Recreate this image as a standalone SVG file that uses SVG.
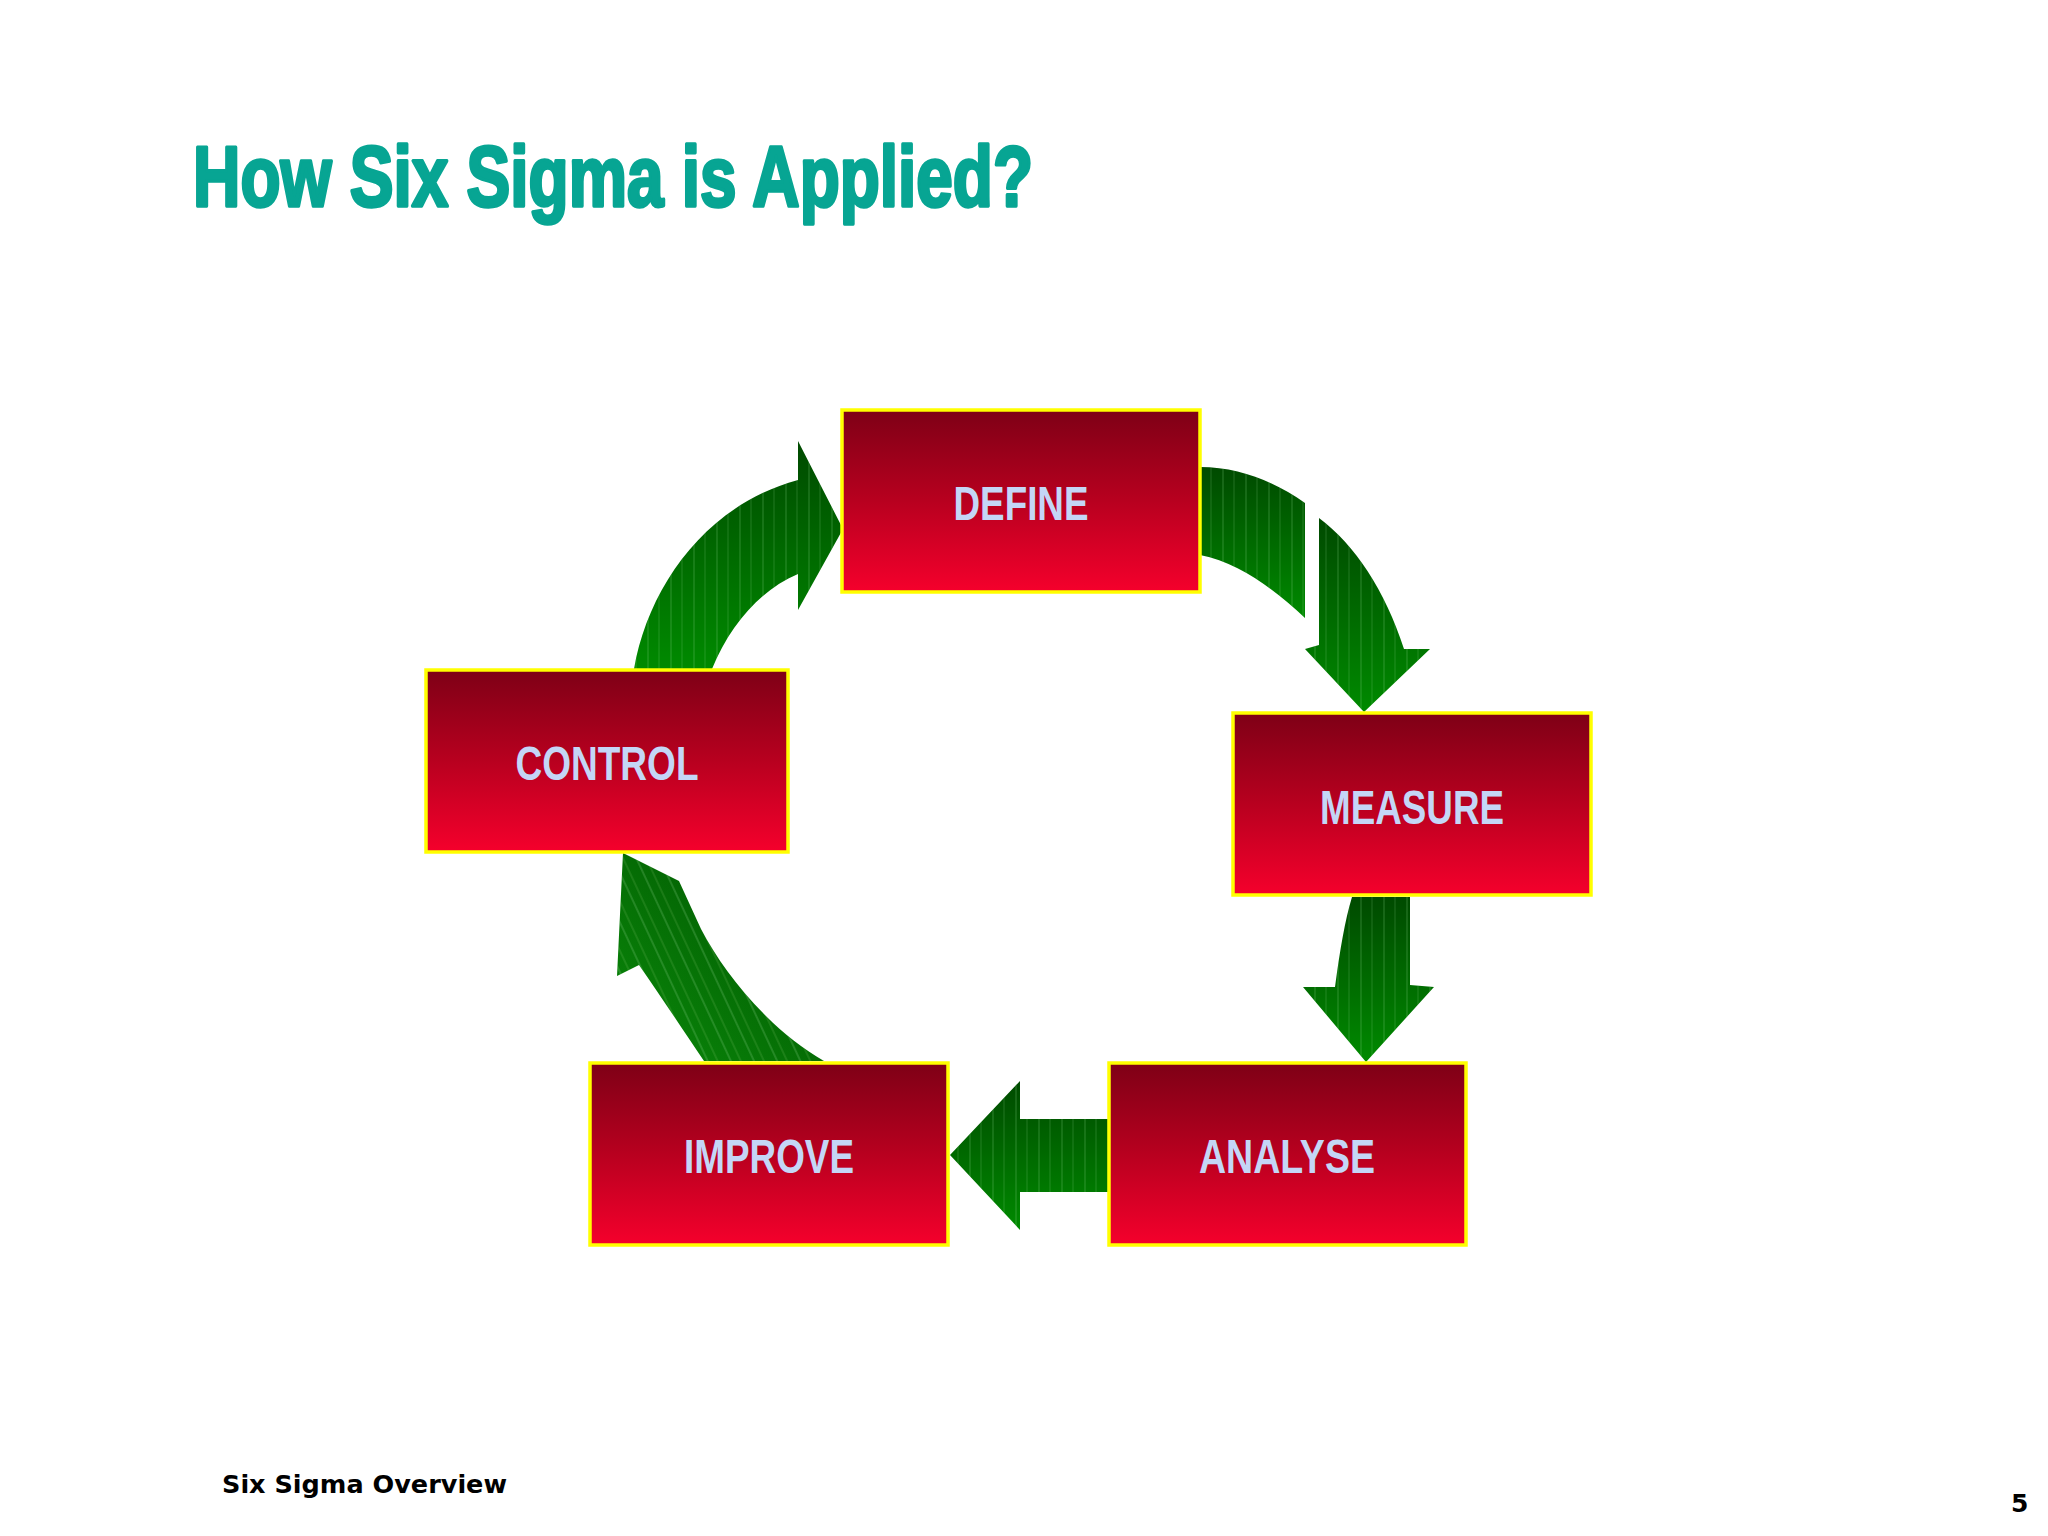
<svg xmlns="http://www.w3.org/2000/svg" width="2048" height="1536" viewBox="0 0 2048 1536">
<defs>
<linearGradient id="boxGrad" x1="0" y1="0" x2="0" y2="1">
<stop offset="0" stop-color="#7e0016"/>
<stop offset="0.5" stop-color="#b8001f"/>
<stop offset="1" stop-color="#f5002c"/>
</linearGradient>
<linearGradient id="arrowGrad" x1="0" y1="0" x2="0" y2="1">
<stop offset="0" stop-color="#004a00"/>
<stop offset="1" stop-color="#008a00"/>
</linearGradient>
<linearGradient id="arrowGradDiag" x1="1" y1="0" x2="0" y2="1">
<stop offset="0" stop-color="#005000"/>
<stop offset="1" stop-color="#0a8a0a"/>
</linearGradient>
<pattern id="streakV" width="23" height="40" patternUnits="userSpaceOnUse">
<line x1="4" y1="0" x2="4" y2="40" stroke="#7fd07f" stroke-width="0.8" stroke-opacity="0.45"/>
<line x1="15" y1="0" x2="15" y2="40" stroke="#a0e0a0" stroke-width="0.6" stroke-opacity="0.35"/>
</pattern>
<pattern id="streakD" width="21" height="40" patternUnits="userSpaceOnUse" patternTransform="rotate(-25)">
<line x1="4" y1="0" x2="4" y2="40" stroke="#a0e0a0" stroke-width="0.8" stroke-opacity="0.5"/>
<line x1="13" y1="0" x2="13" y2="40" stroke="#c0f0a0" stroke-width="0.6" stroke-opacity="0.4"/>
</pattern>
<style>
.box{fill:url(#boxGrad);stroke:#ffff00;stroke-width:3.5}
.lbl{font-family:"Liberation Sans",Arial,sans-serif;font-weight:bold;font-size:48px;fill:#c4d6f6;text-anchor:middle}
.arr{fill:url(#arrowGrad)}
.arrD{fill:url(#arrowGradDiag)}
.stV{fill:url(#streakV)}
.stD{fill:url(#streakD)}
</style>
</defs>
<rect width="2048" height="1536" fill="#ffffff"/>
<text x="193" y="206" font-family="'Liberation Sans',Arial,sans-serif" font-weight="bold" font-size="86" fill="#07a593" stroke="#07a593" stroke-width="3.5" stroke-linejoin="round" textLength="840" lengthAdjust="spacingAndGlyphs">How Six Sigma is Applied?</text>

<g id="connectors">
<g id="arrow-control-define">
<path class="arr" d="M634,669 C648,588 705,505 798,480 L798,441 L843,529 L798,610 L798,574 C760,590 730,625 712,669 Z"/>
<path class="stV" d="M634,669 C648,588 705,505 798,480 L798,441 L843,529 L798,610 L798,574 C760,590 730,625 712,669 Z"/>
</g>
<g id="arrow-define-measure">
<path class="arr" d="M1200,467 C1240,467 1275,482 1305,503 L1305,618 C1275,590 1240,563 1200,555 Z"/>
<path class="stV" d="M1200,467 C1240,467 1275,482 1305,503 L1305,618 C1275,590 1240,563 1200,555 Z"/>
<path class="arr" d="M1319,518 C1355,545 1385,590 1404,649 L1430,649 L1364,712 L1305,649 L1319,645 Z"/>
<path class="stV" d="M1319,518 C1355,545 1385,590 1404,649 L1430,649 L1364,712 L1305,649 L1319,645 Z"/>
</g>
<g id="arrow-measure-analyse">
<path class="arr" d="M1352,897 L1410,897 L1410,985 L1434,987 L1366,1062 L1303,987 L1335,987 C1340,950 1345,920 1352,897 Z"/>
<path class="stV" d="M1352,897 L1410,897 L1410,985 L1434,987 L1366,1062 L1303,987 L1335,987 C1340,950 1345,920 1352,897 Z"/>
</g>
<g id="arrow-analyse-improve">
<path class="arr" d="M1109,1119 L1020,1119 L1020,1081 L950,1155 L1020,1230 L1020,1192 L1109,1192 Z"/>
<path class="stV" d="M1109,1119 L1020,1119 L1020,1081 L950,1155 L1020,1230 L1020,1192 L1109,1192 Z"/>
</g>
<g id="arrow-improve-control">
<path class="arrD" d="M704,1061 C683,1030 660,995 639,965 L617,976 L623,853 L679,881 L701,929 C725,975 770,1030 824,1061 Z"/>
<path class="stD" d="M704,1061 C683,1030 660,995 639,965 L617,976 L623,853 L679,881 L701,929 C725,975 770,1030 824,1061 Z"/>
</g>
</g>

<g id="node-define">
<rect class="box" x="842" y="410" width="358" height="182"/>
<text class="lbl" x="1021" y="520" textLength="135" lengthAdjust="spacingAndGlyphs">DEFINE</text>
</g>
<g id="node-control">
<rect class="box" x="426" y="670" width="362" height="182"/>
<text class="lbl" x="607" y="780" textLength="183" lengthAdjust="spacingAndGlyphs">CONTROL</text>
</g>
<g id="node-measure">
<rect class="box" x="1233" y="713" width="358" height="182"/>
<text class="lbl" x="1412" y="824" textLength="184" lengthAdjust="spacingAndGlyphs">MEASURE</text>
</g>
<g id="node-analyse">
<rect class="box" x="1109" y="1063" width="357" height="182"/>
<text class="lbl" x="1287" y="1173" textLength="176" lengthAdjust="spacingAndGlyphs">ANALYSE</text>
</g>
<g id="node-improve">
<rect class="box" x="590" y="1063" width="358" height="182"/>
<text class="lbl" x="769" y="1173" textLength="170" lengthAdjust="spacingAndGlyphs">IMPROVE</text>
</g>

<text x="222" y="1493" font-family="'DejaVu Sans',Verdana,sans-serif" font-weight="bold" font-size="25" fill="#000000" textLength="285" lengthAdjust="spacingAndGlyphs">Six Sigma Overview</text>
<text x="2011" y="1512" font-family="'DejaVu Sans',Verdana,sans-serif" font-weight="bold" font-size="25" fill="#000000">5</text>
</svg>
